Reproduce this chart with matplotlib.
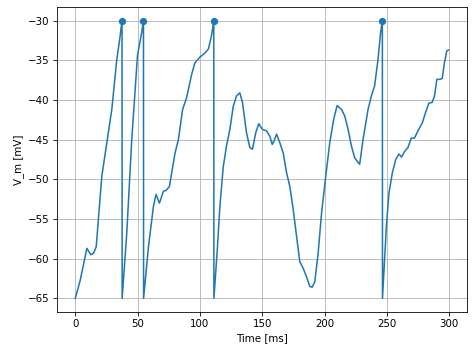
import matplotlib
matplotlib.use("Agg")
import matplotlib.pyplot as plt
import numpy as np

# membrane potential trace (ms, mV)
t_ms = [0, 4, 9.3, 12.5, 14.7, 16.8, 21.3, 25.3, 29.3, 33.3, 35.5, 37.5,
        37.6, 41.3, 45.3, 49.9, 53.3, 54.7,
        54.8, 58.7, 62.7, 64.8, 67.5, 70.7, 72.8, 75.5, 80, 82.7, 86.1, 89.3,
        93.3, 96, 100, 103.2, 106.7, 109.3, 111.1,
        111.2, 113.9, 116, 118.7, 121.3, 124, 126.7, 129.3, 132, 134.1, 137.3,
        140, 142.1, 144.8, 147.2, 150, 153.5, 156.1, 158, 159.3, 161.5, 164.1,
        166.8, 169.5, 172.1, 174.8, 177.5, 180.1, 182.8, 185.5, 188.1, 190,
        192.1, 194.8, 197.5, 200.9, 204.1, 207.3, 210, 213.5, 216.1, 218.8,
        221.5, 224.1, 226, 228.1, 230.8, 234.8, 237.5, 240.1, 242.8, 244.9, 246.3,
        246.4, 249.5, 251.6, 254.3, 257, 259.6, 261.7, 264.1, 266.8, 269.5,
        272.1, 274.8, 278.3, 280.9, 283.6, 286.3, 288.1, 290, 292.1, 294.3,
        296.1, 298, 299.5]
v_mv = [-65, -62.7, -58.7, -59.5, -59.3, -58.5, -49.6, -45.4, -41.2, -34.9, -32.5, -30,
        -65, -56.8, -45, -34.4, -31.5, -30,
        -65, -58.5, -53.4, -51.9, -53, -51.5, -51.4, -50.9, -46.7, -45, -41.2, -39.7,
        -36.8, -35.3, -34.6, -34.2, -33.6, -31.9, -30,
        -65, -58.9, -53.4, -48.4, -45.8, -43.7, -40.8, -39.5, -39.1, -40.3, -44.1,
        -46, -46.2, -44.1, -43, -43.7, -43.9, -44.6, -45.6, -45.2, -44.3, -45.4,
        -46.7, -49.2, -50.9, -53.8, -57.2, -60.4, -61.2, -62.3, -63.5, -63.6,
        -62.9, -59.3, -54.3, -49.6, -45.4, -42.4, -40.7, -41.2, -42, -43.7,
        -45.8, -47.3, -47.7, -48.1, -45, -41.2, -39.5, -38.2, -34.9, -31.5, -30,
        -65, -56, -51.7, -49.2, -47.5, -46.8, -47.2, -46.5, -46, -44.8,
        -44.8, -43.9, -42.9, -41.6, -40.4, -40.3, -39.5, -37.4, -37.4, -37.3,
        -35.3, -33.8, -33.7]

spike_times = [37.5, 54.7, 111.1, 246.3]
spike_v = [-30, -30, -30, -30]

# default 6.4x4.8 figure, drawn at a lower dpi so it comes out 474x356
fig, ax = plt.subplots(figsize=(474 / 74, 356 / 74), dpi=74)
ax.plot(t_ms, v_mv, color="C0")
ax.plot(spike_times, spike_v, "o", color="C0")
ax.set_xlabel("Time [ms]")
ax.set_ylabel("V_m [mV]")
ax.set_xticks(np.arange(0, 301, 50))
ax.set_yticks(np.arange(-65, -29, 5))
ax.grid(True)
fig.subplots_adjust(left=0.1194, right=0.986, top=0.981, bottom=0.123)
fig.savefig("out.png")
